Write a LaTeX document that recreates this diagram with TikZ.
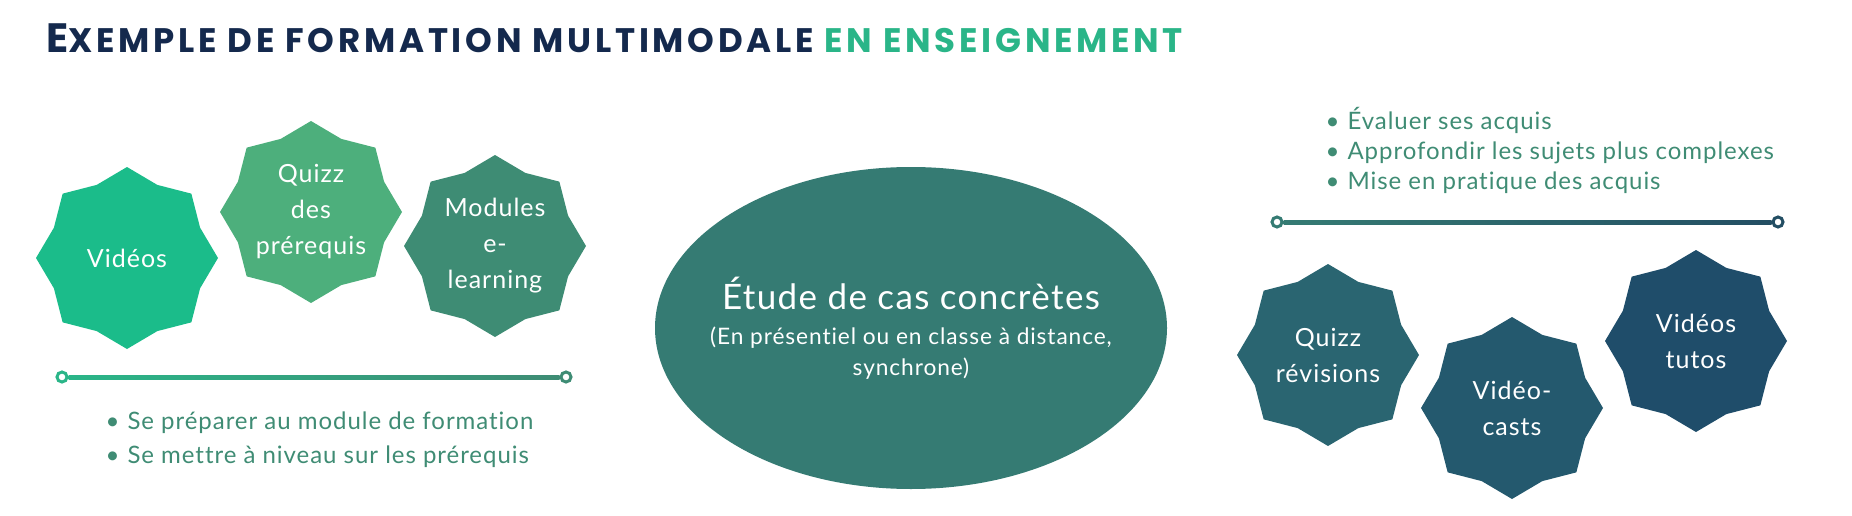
\documentclass[tikz,border=0pt]{standalone}
\usepackage{fontspec}
\setmainfont{Lato}[LetterSpace=4, Ligatures=NoCommon]
\newfontfamily\titrefont{Poppins}[LetterSpace=11]
\usetikzlibrary{shapes.geometric,calc}
\definecolor{marine}{HTML}{14294D}
\definecolor{menthe}{HTML}{2AB588}
\definecolor{texteliste}{HTML}{3F8C74}
\definecolor{fondA}{HTML}{1BBC8A}
\definecolor{fondB}{HTML}{4DAF7C}
\definecolor{fondC}{HTML}{3E8C74}
\definecolor{fondD}{HTML}{357B73}
\definecolor{fondE}{HTML}{2A6571}
\definecolor{fondF}{HTML}{24596E}
\definecolor{fondG}{HTML}{1F4D6A}
\definecolor{lignefin}{HTML}{234E63}
\newcommand\puce{\makebox[22pt][l]{•}}

\begin{document}
\begin{tikzpicture}[x=1pt, y=-1pt,
  etoile/.style={star, star points=8, star point ratio=1.15, minimum size=182pt,
    inner sep=0pt, text=white, align=center, font=\fontsize{25}{36}\selectfont},
  anneau/.style={circle, draw, line width=3pt, fill=white, minimum size=10pt, inner sep=0pt},
  liste/.style={anchor=west, align=left, text=texteliste}]
\useasboundingbox (0,0) rectangle (1852,516);
\node[anchor=base west, inner sep=0pt, text=marine] (T) at (46,53)
  {\titrefont\bfseries{\fontsize{41}{41}\selectfont E}{\fontsize{34}{34}\selectfont XEMPLE DE FORMATION MULTIMODALE \textcolor{menthe}{EN ENSEIGNEMENT}}};
\node[etoile, fill=fondA] (S1) at (127,258) {Vidéos};
\node[etoile, fill=fondB] (S2) at (311,212) {Quizz\\des\\prérequis};
\node[etoile, fill=fondC] (S3) at (495,246) {Modules\\e-\\learning};
\node[ellipse, fill=fondD, minimum width=512pt, minimum height=322pt, inner sep=0pt] (E) at (911,328) {};
\node[text=white, align=center, font=\fontsize{22.7}{31}\selectfont] (ET) at (E.center)
  {{\fontsize{35}{35}\selectfont Étude de cas concrètes}\\[4pt]
   (En présentiel ou en classe à distance,\\synchrone)};
\node[etoile, fill=fondE] (S4) at (1328,355) {Quizz\\révisions};
\node[etoile, fill=fondF] (S5) at (1512,408) {Vidéo-\\casts};
\node[etoile, fill=fondG] (S6) at (1696,341) {Vidéos\\tutos};
\node[anneau, draw=menthe] (L1) at (62,377) {};
\node[anneau, draw=fondC] (L2) at (566,377) {};
\shade[left color=menthe, right color=fondC] ($(L1.east)+(0,-2)$) rectangle ($(L2.west)+(0,2)$);
\node[anneau, draw=fondD] (R1) at (1277,222) {};
\node[anneau, draw=lignefin] (R2) at (1778,222) {};
\shade[left color=fondD, right color=lignefin] ($(R1.east)+(0,-2)$) rectangle ($(R2.west)+(0,2)$);
\node[liste, font=\fontsize{24}{34}\selectfont] (P1) at (102,440)
  {\puce Se préparer au module de formation\\\puce Se mettre à niveau sur les prérequis};
\node[liste, font=\fontsize{24}{30}\selectfont] (P2) at (1322,150)
  {\puce Évaluer ses acquis\\\puce Approfondir les sujets plus complexes\\\puce Mise en pratique des acquis};
\end{tikzpicture}
\end{document}
